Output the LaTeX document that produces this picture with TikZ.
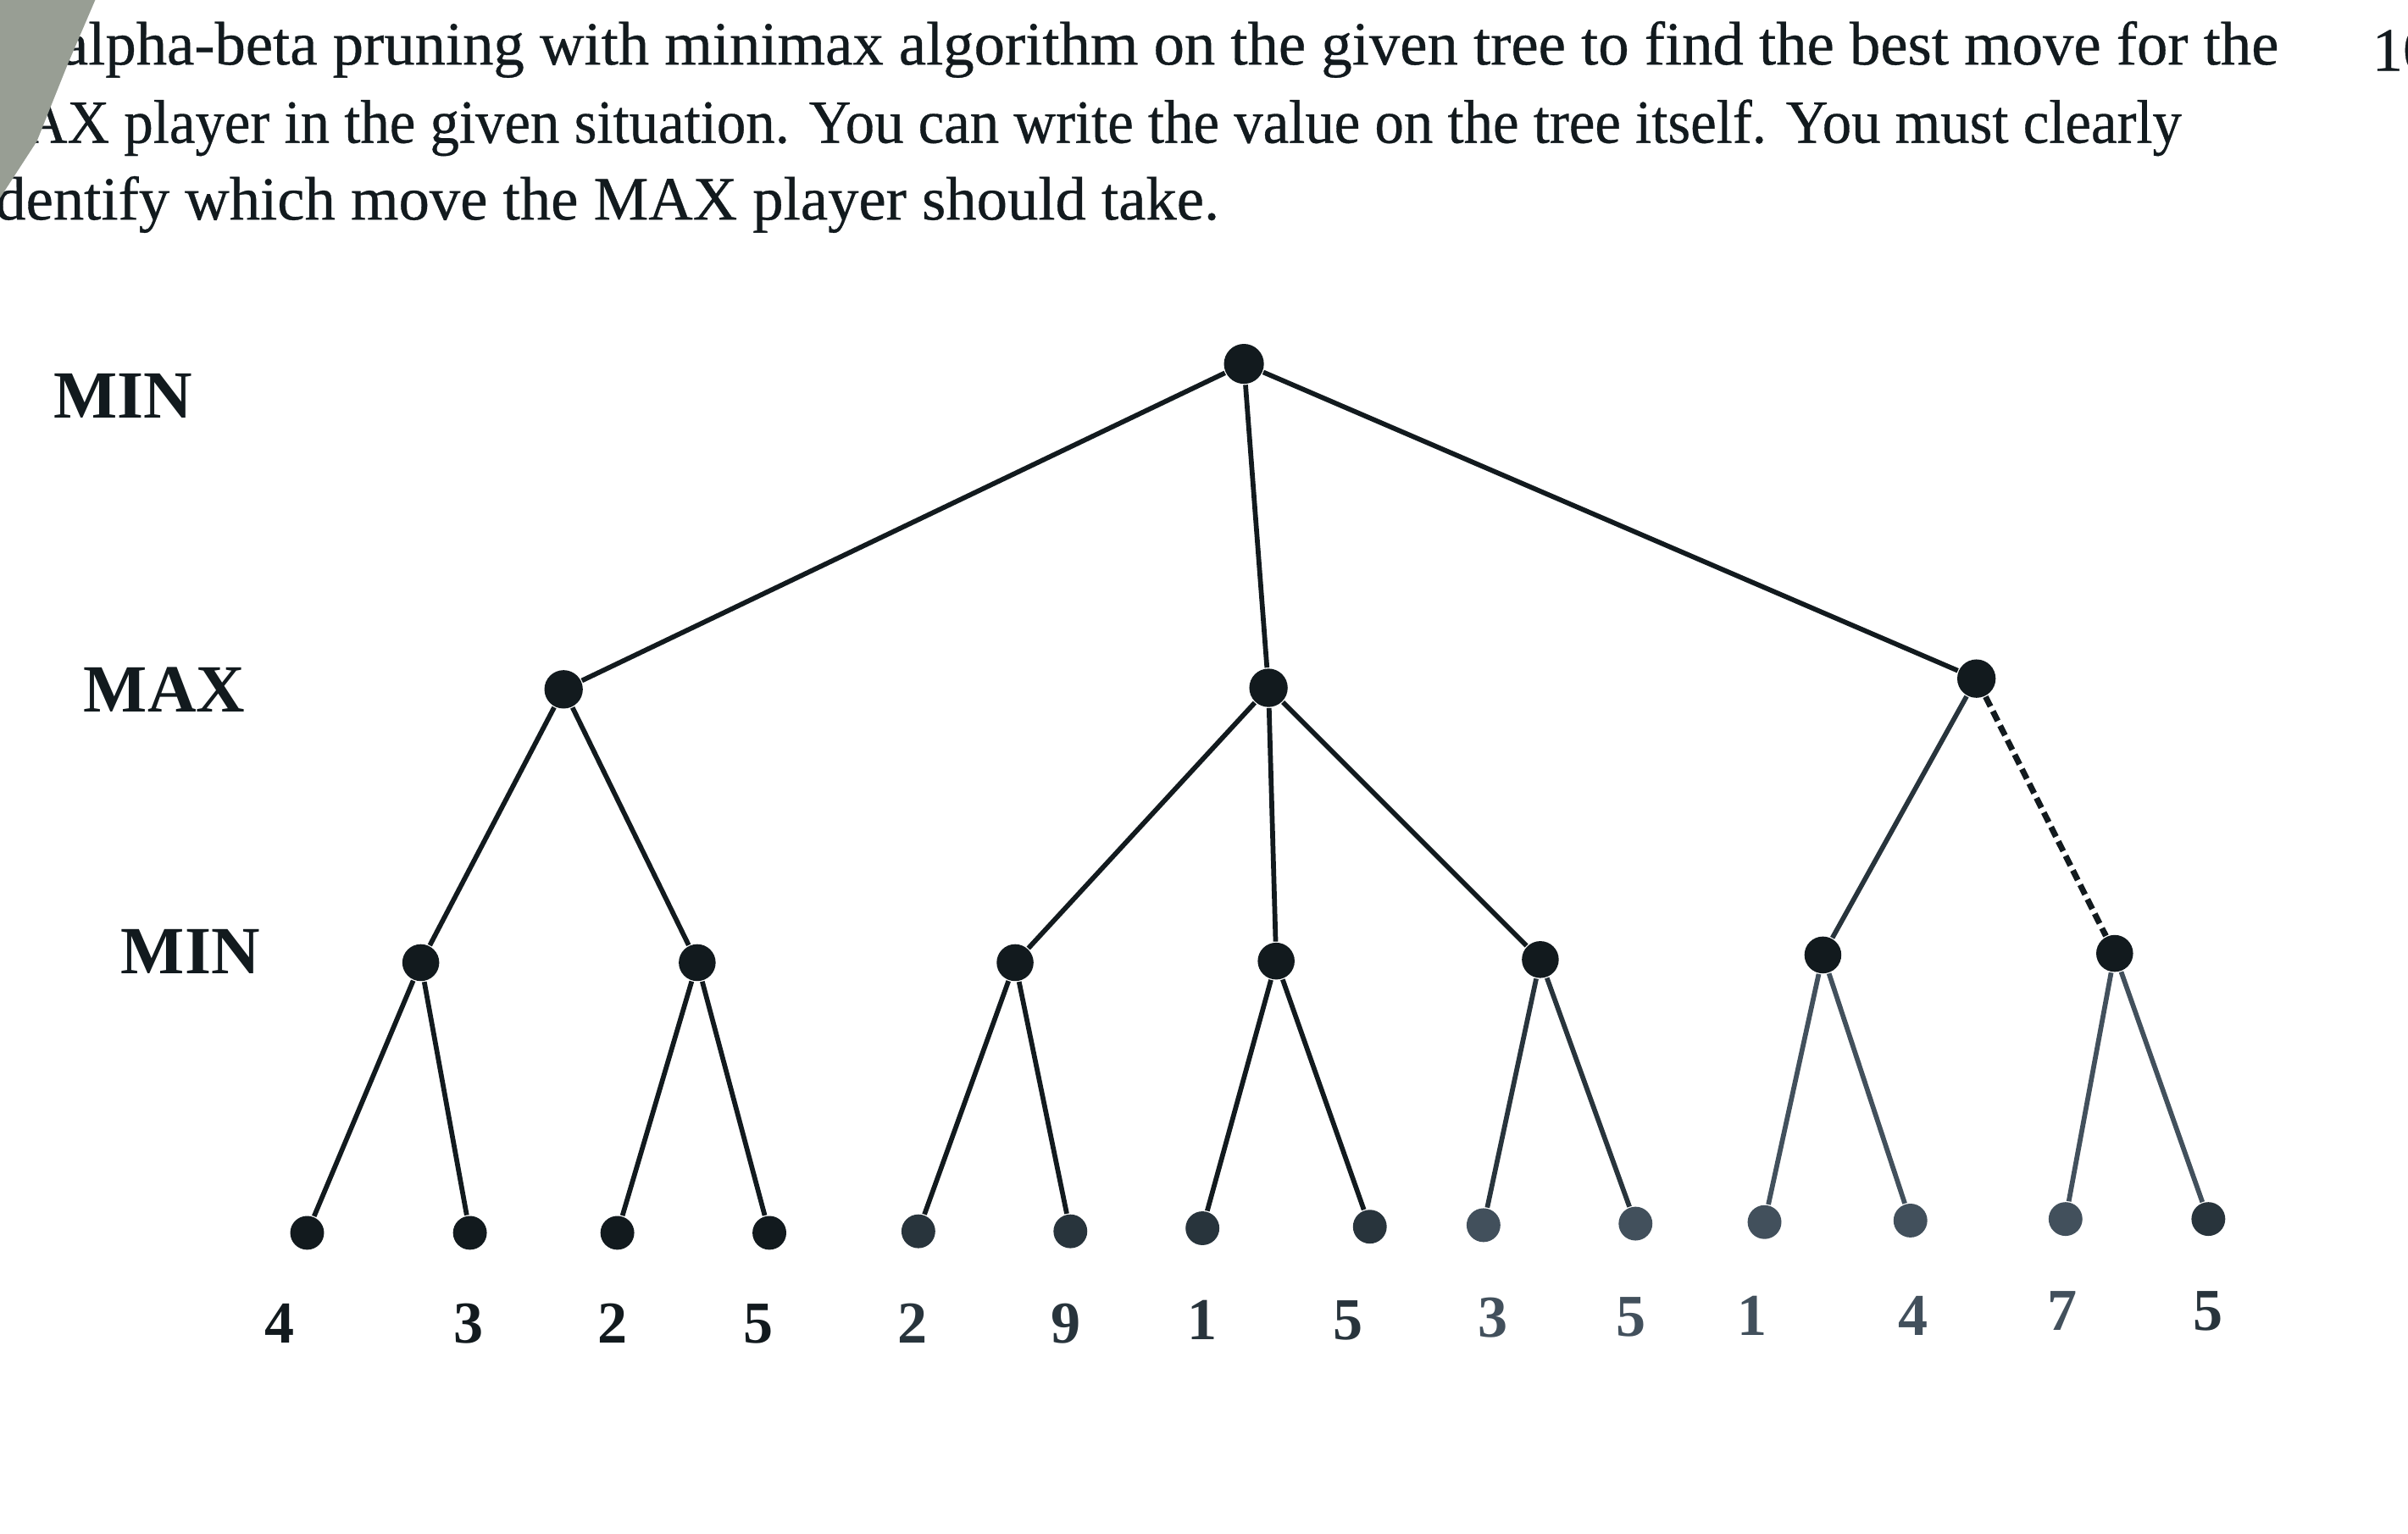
\documentclass[tikz,border=0pt]{standalone}
\usepackage{fontspec}
\setmainfont{Liberation Serif}
\usepackage{xcolor}
\definecolor{inkdark}{RGB}{18,26,30}
\definecolor{inkmid}{RGB}{40,52,60}
\definecolor{inkgray}{RGB}{66,80,92}
\definecolor{shadowgray}{RGB}{152,158,148}

\begin{document}
\begin{tikzpicture}[
    x=0.01cm, y=-0.01cm,
    dot/.style={circle, fill=inkdark, inner sep=0pt, minimum size=0.25cm},
    leafdot/.style={circle, fill=#1, inner sep=0pt, minimum size=0.22cm},
    leafdot/.default=inkdark,
    branch/.style={draw=#1, line width=0.9pt},
    branch/.default=inkdark,
    pruned/.style={draw=inkdark, line width=1.1pt, dash pattern=on 2pt off 1pt},
    body/.style={anchor=base west, inner sep=0pt, text=inkdark, font=\fontsize{11.4}{14.2}\selectfont\addfontfeature{FakeBold=0.5}},
    level/.style={inner sep=0pt, text=inkdark, font=\fontsize{12.5}{15}\selectfont\bfseries},
    value/.style={inner sep=0pt, text=#1, font=\fontsize{11}{13}\selectfont\bfseries},
    value/.default=inkdark
]
    \useasboundingbox (0,0) rectangle (1568,999);
    \clip (0,0) rectangle (1568,999);

    % Question text
    \node[body] (line1) at (39,42) {alpha-beta pruning with minimax algorithm on the given tree to find the best move for the};
    \node[body] (line2) at (-18,93) {\scalebox{0.947}[1]{MAX player in the given situation. You can write the value on the tree itself. You must clearly}};
    \node[body] (line3) at (-15,143) {identify which move the MAX player should take.};
    \node[body] (marks) at (1544,46) {10};
    \fill[shadowgray] (0,0) -- (62,0) -- (44,42) -- (24,92) -- (0,129) -- cycle;

    % Level labels
    \node[level] (lvlroot) at (80,258) {MIN};
    \node[level] (lvlmax) at (107,449) {MAX};
    \node[level] (lvlmin) at (124,620) {MIN};

    % Nodes
    \node[dot, minimum size=0.26cm] (root) at (810,237) {};
    \node[dot] (maxl) at (367,449) {};
    \node[dot] (maxm) at (826,448) {};
    \node[dot] (maxr) at (1287,442) {};

    \node[dot, minimum size=0.24cm] (min1) at (274,627) {};
    \node[dot, minimum size=0.24cm] (min2) at (454,627) {};
    \node[dot, minimum size=0.24cm] (min3) at (661,627) {};
    \node[dot, minimum size=0.24cm] (min4) at (831,626) {};
    \node[dot, minimum size=0.24cm] (min5) at (1003,625) {};
    \node[dot, minimum size=0.24cm] (min6) at (1187,622) {};
    \node[dot, minimum size=0.24cm] (min7) at (1377,621) {};

    \node[leafdot] (leaf1) at (200,803) {};
    \node[leafdot] (leaf2) at (306,803) {};
    \node[leafdot] (leaf3) at (402,803) {};
    \node[leafdot] (leaf4) at (501,803) {};
    \node[leafdot=inkmid] (leaf5) at (598,802) {};
    \node[leafdot=inkmid] (leaf6) at (697,802) {};
    \node[leafdot=inkmid] (leaf7) at (783,800) {};
    \node[leafdot=inkmid] (leaf8) at (892,799) {};
    \node[leafdot=inkgray] (leaf9) at (966,798) {};
    \node[leafdot=inkgray] (leaf10) at (1065,797) {};
    \node[leafdot=inkgray] (leaf11) at (1149,796) {};
    \node[leafdot=inkgray] (leaf12) at (1244,795) {};
    \node[leafdot=inkgray] (leaf13) at (1345,794) {};
    \node[leafdot=inkmid] (leaf14) at (1438,794) {};

    % Leaf values
    \node[value] (val1) at (182,862) {4};
    \node[value] (val2) at (305,862) {3};
    \node[value] (val3) at (399,862) {2};
    \node[value] (val4) at (494,862) {5};
    \node[value=inkmid] (val5) at (594,862) {2};
    \node[value=inkmid] (val6) at (694,862) {9};
    \node[value=inkmid] (val7) at (783,860) {1};
    \node[value=inkmid] (val8) at (878,860) {5};
    \node[value=inkgray] (val9) at (972,858) {3};
    \node[value=inkgray] (val10) at (1062,858) {5};
    \node[value=inkgray] (val11) at (1141,857) {1};
    \node[value=inkgray] (val12) at (1246,857) {4};
    \node[value=inkgray] (val13) at (1343,854) {7};
    \node[value=inkmid] (val14) at (1438,854) {5};

    % Edges
    \draw[branch] (root) -- (maxl);
    \draw[branch] (root) -- (maxm);
    \draw[branch] (root) -- (maxr);

    \draw[branch] (maxl) -- (min1);
    \draw[branch] (maxl) -- (min2);
    \draw[branch] (maxm) -- (min3);
    \draw[branch] (maxm) -- (min4);
    \draw[branch] (maxm) -- (min5);
    \draw[branch=inkmid] (maxr) -- (min6);
    \draw[pruned] (maxr) -- (min7);

    \draw[branch] (min1) -- (leaf1);
    \draw[branch] (min1) -- (leaf2);
    \draw[branch] (min2) -- (leaf3);
    \draw[branch] (min2) -- (leaf4);
    \draw[branch] (min3) -- (leaf5);
    \draw[branch] (min3) -- (leaf6);
    \draw[branch] (min4) -- (leaf7);
    \draw[branch] (min4) -- (leaf8);
    \draw[branch=inkmid] (min5) -- (leaf9);
    \draw[branch=inkmid] (min5) -- (leaf10);
    \draw[branch=inkgray] (min6) -- (leaf11);
    \draw[branch=inkgray] (min6) -- (leaf12);
    \draw[branch=inkgray] (min7) -- (leaf13);
    \draw[branch=inkgray] (min7) -- (leaf14);
\end{tikzpicture}
\end{document}
